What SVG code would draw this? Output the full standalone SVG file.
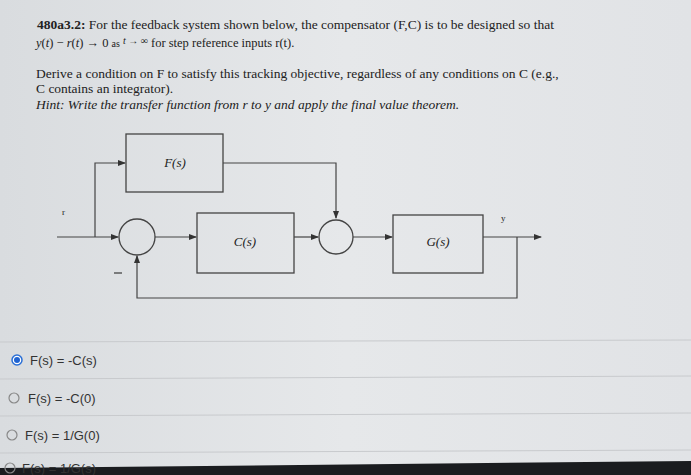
<svg xmlns="http://www.w3.org/2000/svg" width="691" height="475" viewBox="0 0 691 475">
<defs>
<marker id="ah" markerWidth="8" markerHeight="6" refX="7" refY="3" orient="auto" markerUnits="userSpaceOnUse"><path d="M0,0 L8,3 L0,6 z" fill="#333"/></marker>
<linearGradient id="bg" x1="0" y1="0" x2="1" y2="0"><stop offset="0" stop-color="#d9dcdf"/><stop offset="0.5" stop-color="#e6e8ea"/><stop offset="1" stop-color="#e1e3e6"/></linearGradient>
</defs>
<style>
.t{font-family:"Liberation Serif",serif;fill:#222}
.b{fill:none;stroke:#444;stroke-width:1.3}
.c{fill:none;stroke:#444;stroke-width:1.2}
.o{font-family:"Liberation Sans",Arial,sans-serif;font-size:13px;fill:#333}
.sep{stroke:#c8cacd;stroke-width:1}
</style>
<rect width="691" height="475" fill="url(#bg)"/>
<text class="t" x="37" y="29" font-size="13.5"><tspan font-weight="bold">480a3.2:</tspan> For the feedback system shown below, the compensator (F,C) is to be designed so that</text>
<text class="t" x="36" y="47" font-size="12.5"><tspan font-style="italic">y</tspan>(<tspan font-style="italic">t</tspan>) − <tspan font-style="italic">r</tspan>(<tspan font-style="italic">t</tspan>) → 0 <tspan font-size="10">as</tspan> <tspan font-size="10" font-style="italic" dy="-3">t → ∞</tspan><tspan dy="3"> for step reference inputs r(t).</tspan></text>
<text class="t" x="36" y="78" font-size="13.5">Derive a condition on F to satisfy this tracking objective, regardless of any conditions on C (e.g.,</text>
<text class="t" x="36" y="93" font-size="13.5">C contains an integrator).</text>
<text class="t" x="36" y="109" font-size="13.5" font-style="italic">Hint: Write the transfer function from r to y and apply the final value theorem.</text>
<g id="connectors" class="c">
<path d="M57,237 H118" marker-end="url(#ah)"/>
<path d="M95,237 V163 H125" marker-end="url(#ah)"/>
<path d="M223,163 H336 V218" marker-end="url(#ah)"/>
<path d="M155,237 H196" marker-end="url(#ah)"/>
<path d="M294,237 H318" marker-end="url(#ah)"/>
<path d="M353,237 H392" marker-end="url(#ah)"/>
<path d="M483,237 H541" marker-end="url(#ah)"/>
<path d="M517,237 V298 H137 V256" marker-end="url(#ah)"/>
</g>
<g id="F"><rect class="b" x="126" y="134" width="97" height="58"/><text class="t" x="175" y="167" font-size="13" font-style="italic" text-anchor="middle">F(s)</text></g>
<g id="sum1"><circle class="b" cx="137" cy="237" r="18"/></g>
<g id="C"><rect class="b" x="197" y="213" width="97" height="60"/><text class="t" x="245" y="246" font-size="13" font-style="italic" text-anchor="middle">C(s)</text></g>
<g id="sum2"><circle class="b" cx="336" cy="237" r="17"/></g>
<g id="G"><rect class="b" x="393" y="215" width="90" height="58"/><text class="t" x="438" y="246" font-size="13" font-style="italic" text-anchor="middle">G(s)</text></g>
<text class="t" x="62" y="215" font-size="9">r</text>
<text class="t" x="501" y="221" font-size="9">y</text>
<path d="M114,273 H122" stroke="#444" stroke-width="1.3"/>
<line class="sep" x1="0" y1="342" x2="691" y2="340"/>
<line class="sep" x1="0" y1="379" x2="691" y2="376"/>
<line class="sep" x1="0" y1="416" x2="691" y2="413"/>
<line class="sep" x1="0" y1="453" x2="691" y2="450"/>
<path d="M0,468 L691,461 V475 H0 z" fill="#1a1c1f"/>
<g id="opt1"><circle cx="17" cy="360" r="5" fill="#fff" stroke="#2a6fd6" stroke-width="1.5"/><circle cx="17" cy="360" r="3" fill="#1f63d1"/><text class="o" x="30" y="365">F(s) = -C(s)</text></g>
<g id="opt2"><circle cx="14" cy="398" r="5" fill="none" stroke="#888" stroke-width="1.2"/><text class="o" x="28" y="403">F(s) = -C(0)</text></g>
<g id="opt3"><circle cx="12" cy="435" r="5" fill="none" stroke="#888" stroke-width="1.2"/><text class="o" x="25" y="440">F(s) = 1/G(0)</text></g>
<g id="opt4"><circle cx="10" cy="468" r="5" fill="none" stroke="#888" stroke-width="1.2"/><text class="o" x="22" y="473" font-size="12">F(s) = 1/G(s)</text></g>
</svg>
